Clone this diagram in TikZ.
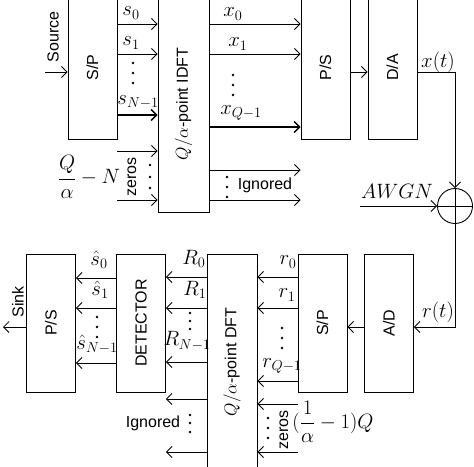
\documentclass[tikz,border=0pt]{standalone}
\usepackage[no-math]{fontspec}
\setmainfont{Liberation Sans}
\usetikzlibrary{arrows.meta}

\tikzset{
  blk/.style={draw, line width=0.9pt, inner sep=0pt, minimum width=49pt},
  arr/.style={line width=0.8pt, -{Straight Barb[length=5.5pt,width=11pt]}},
  sans/.style={font=\fontsize{16}{18}\selectfont, inner sep=0pt},
  sym/.style={font=\fontsize{21}{23}\selectfont, inner sep=0pt},
}

\begin{document}
\begin{tikzpicture}[x=1pt,y=-1pt]
      \clip (0,0) rectangle (474,466);
      % transmitter
      \node[blk, minimum height=143pt] (spT) at (92.5,67.5) {\rotatebox{90}{\fontsize{16}{18}\selectfont S/P}};
      \node[blk, minimum width=51pt, minimum height=216pt] (idft) at (183.5,104) {\rotatebox{90}{\fontsize{16}{18}\selectfont $Q/\alpha$-point IDFT}};
      \node[blk, minimum height=143pt] (psT) at (325.5,67.5) {\rotatebox{90}{\fontsize{16}{18}\selectfont P/S}};
      \node[blk, minimum height=143pt] (da) at (392.5,67.5) {\rotatebox{90}{\fontsize{16}{18}\selectfont D/A}};
      \node[draw, circle, line width=0.9pt, inner sep=0pt, minimum size=35pt] (sum) at (455,206) {};
      % receiver
      \node[blk, minimum height=138pt] (psB) at (51,323) {\rotatebox{90}{\fontsize{16}{18}\selectfont P/S}};
      \node[blk, minimum height=138pt] (det) at (141,323) {\rotatebox{90}{\fontsize{16}{18}\selectfont DETECTOR}};
      \node[blk, minimum width=50pt, minimum height=216pt] (dft) at (232,362) {\rotatebox{90}{\fontsize{16}{18}\selectfont $Q/\alpha$-point DFT}};
      \node[blk, minimum height=138pt] (spB) at (322.5,323) {\rotatebox{90}{\fontsize{16}{18}\selectfont S/P}};
      \node[blk, minimum height=138pt] (ad) at (389,323) {\rotatebox{90}{\fontsize{16}{18}\selectfont A/D}};
      \coordinate (src) at (45,72);
      \coordinate (noise) at (360,206);
      \coordinate (snk) at (3,327);
      % transmitter connectors
      \draw[arr] (src) -- (spT.west |- src);
      \draw[arr] (spT.east |- 0,24) -- (idft.west |- 0,24);
      \draw[arr] (spT.east |- 0,54) -- (idft.west |- 0,54);
      \draw[arr, line width=1.3pt] (spT.east |- 0,115) -- (idft.west |- 0,115);
      \draw[arr] (spT.east |- 0,151) -- (idft.west |- 0,151);
      \draw[arr] (spT.east |- 0,200) -- (idft.west |- 0,200);
      \draw[arr] (idft.east |- 0,24) -- (psT.west |- 0,24);
      \draw[arr] (idft.east |- 0,54) -- (psT.west |- 0,54);
      \draw[arr, line width=1.3pt] (idft.east |- 0,127) -- (psT.west |- 0,127);
      \draw[arr] (idft.east |- 0,170) -- (psT.west |- 0,170);
      \draw[arr] (idft.east |- 0,200) -- (psT.west |- 0,200);
      \draw[arr] (psT.east |- 0,72) -- (da.west |- 0,72);
      \draw[arr] (da.east |- 0,72) -| (sum.north);
      \draw[arr] (noise) -- (sum.west);
      \draw[line width=0.8pt] (sum.north) -- (sum.south) (sum.west) -- (sum.east);
      % receiver connectors
      \draw[arr] (sum.south) |- (ad.east |- 0,327);
      \draw[arr] (ad.west |- 0,327) -- (spB.east |- 0,327);
      \draw[arr] (spB.west |- 0,277) -- (dft.east |- 0,277);
      \draw[arr] (spB.west |- 0,308) -- (dft.east |- 0,308);
      \draw[arr] (spB.west |- 0,381) -- (dft.east |- 0,381);
      \draw[arr] (spB.west |- 0,404) -- (dft.east |- 0,404);
      \draw[arr] (spB.west |- 0,452) -- (dft.east |- 0,452);
      \draw[arr] (dft.west |- 0,277) -- (det.east |- 0,277);
      \draw[arr] (dft.west |- 0,308) -- (det.east |- 0,308);
      \draw[arr] (dft.west |- 0,362) -- (det.east |- 0,362);
      \draw[arr] (dft.west |- 0,399) -- (det.east |- 0,399);
      \draw[arr] (dft.west |- 0,452) -- (det.east |- 0,452);
      \draw[arr] (det.west |- 0,278) -- (psB.east |- 0,278);
      \draw[arr] (det.west |- 0,308) -- (psB.east |- 0,308);
      \draw[arr] (det.west |- 0,363) -- (psB.east |- 0,363);
      \draw[arr] (psB.west |- snk) -- (snk);
      % labels
      \node[sans, rotate=90] at (53,37) {Source};
      \node[sym] at (131,13) {$s_0$};
      \node[sym] at (131,43) {$s_1$};
      \node[sym] at (138,102) {$s_{N-1}$};
      \node[sym] at (89,177) {$\displaystyle\frac{Q}{\alpha}-N$};
      \node[sans, rotate=90] at (132,177) {zeros};
      \node[sym] at (233,14) {$x_0$};
      \node[sym] at (238,44) {$x_1$};
      \node[sym] at (241,113) {$x_{Q-1}$};
      \node[sans] at (265,185) {Ignored};
      \node[sym] at (438,62) {$x(t)$};
      \node[sym] at (397,191) {$AWGN$};
      \node[sym] at (438,312) {$r(t)$};
      \node[sym] at (288,262) {$r_0$};
      \node[sym] at (287,295) {$r_1$};
      \node[sym] at (282,366) {$r_{Q-1}$};
      \node[sans, rotate=90] at (284,430) {zeros};
      \node[sym] at (333,422) {$(\displaystyle\frac{1}{\alpha}-1)Q$};
      \node[sym] at (194,259) {$R_0$};
      \node[sym] at (195,290) {$R_1$};
      \node[sym] at (187,341) {$R_{N-1}$};
      \node[sans] at (153,423) {Ignored};
      \node[sym] at (99,260) {$\hat s_0$};
      \node[sym] at (100,290) {$\hat s_1$};
      \node[sym] at (97,344) {$\hat s_{N-1}$};
      \node[sans, rotate=90] at (18,302) {Sink};
      % dots
      \foreach \y in {63,73,83} \fill (133,\y) circle (1.3pt);
      \foreach \y in {165,177,188} \fill (150,\y) circle (1.3pt);
      \foreach \y in {75,85,95} \fill (233,\y) circle (1.3pt);
      \foreach \y in {177,187,197} \fill (227,\y) circle (1.3pt);
      \foreach \y in {328,338,348} \fill (282,\y) circle (1.3pt);
      \foreach \y in {418,428,438} \fill (268,\y) circle (1.3pt);
      \foreach \y in {313,321,329} \fill (190,\y) circle (1.3pt);
      \foreach \y in {415,423,432} \fill (190,\y) circle (1.3pt);
      \foreach \y in {317,327,337} \fill (97,\y) circle (1.3pt);
    \end{tikzpicture}
\end{document}
